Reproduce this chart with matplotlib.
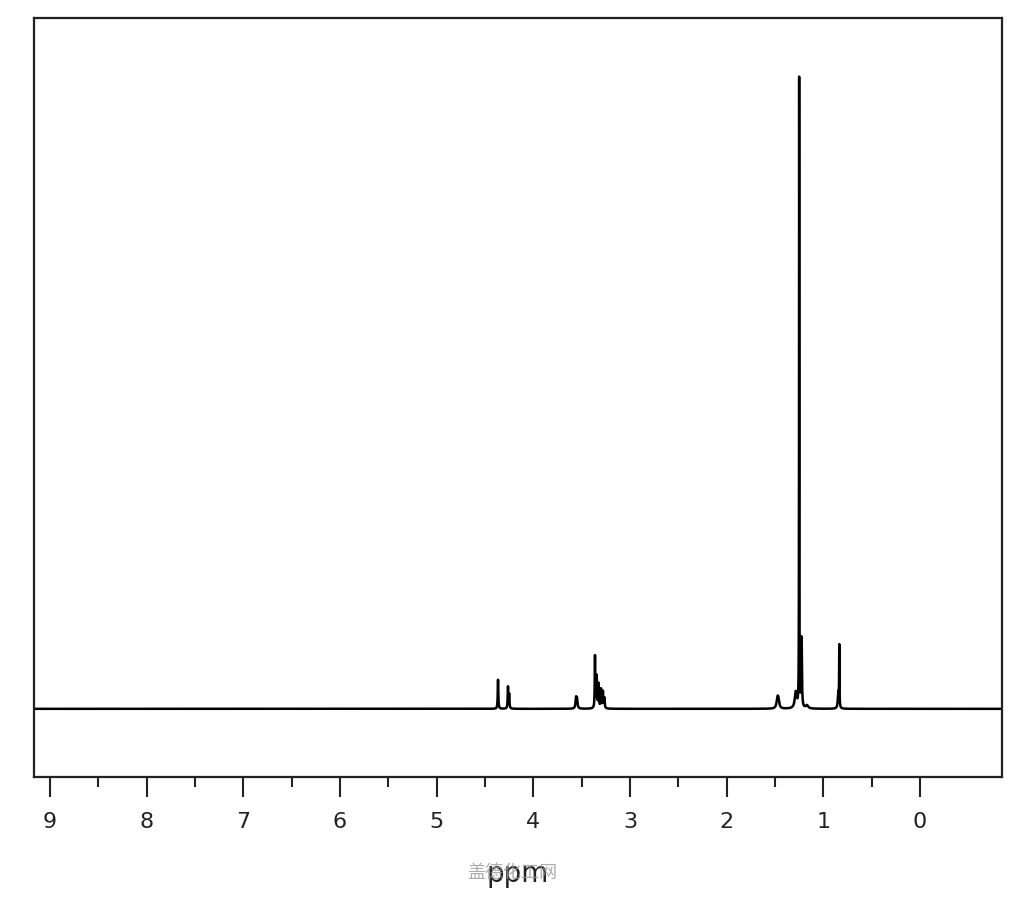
import numpy as np
import matplotlib
matplotlib.use('Agg')
import matplotlib.pyplot as plt

# peak list: shift (ppm), height (% of tallest), half width (ppm)
shifts = [4.365, 4.262, 4.250, 3.558, 3.548, 3.362, 3.345, 3.325, 3.300, 3.280, 3.265,
          1.475, 1.465, 1.285, 1.250, 1.225, 1.170, 0.845, 0.835]
heights = [4.6, 3.4, 2.2, 1.6, 1.4, 8.2, 5.0, 3.8, 3.0, 2.6, 1.6,
           1.4, 1.2, 2.6, 100.0, 11.0, 0.5, 2.5, 9.6]
widths = [0.0035, 0.0035, 0.0035, 0.006, 0.006, 0.003, 0.004, 0.004, 0.004, 0.004, 0.004,
          0.010, 0.010, 0.012, 0.0015, 0.004, 0.015, 0.006, 0.002]
ticks = list(range(0, 10))

x = np.linspace(9.2, -0.9, 40000)
y = np.zeros_like(x)
for c, h, w in zip(shifts, heights, widths):
    y += h * w**2 / ((x - c)**2 + w**2)

fig = plt.figure(figsize=(10.24, 9), dpi=100)
ax = fig.add_axes([0.0332, 0.1367, 0.9453, 0.8433])
ax.plot(x, y, color='black', lw=1.8)

ax.set_xlim(9.165, -0.848)
ax.set_ylim(-10.8, 109.5)
ax.set_yticks([])
ax.set_xticks(ticks)
ax.set_xticks(np.arange(0.5, 9, 1), minor=True)
ax.tick_params(axis='x', which='major', direction='out', length=14.5, width=1.5,
               color='#222222', labelsize=16, pad=11, labelcolor='#222222')
ax.tick_params(axis='x', which='minor', direction='out', length=7.5, width=1.5, color='#222222')
for s in ax.spines.values():
    s.set_linewidth(1.6)
    s.set_color('#222222')

ax.set_xlabel('ppm', fontsize=20, color='#222222', labelpad=20)
fig.text(0.5, 0.030, '盖德化工网', color='#999999', fontsize=13, ha='center', va='center',
         family=['Noto Sans CJK SC', 'DejaVu Sans'], alpha=0.8)

fig.savefig('out.png', dpi=100)
